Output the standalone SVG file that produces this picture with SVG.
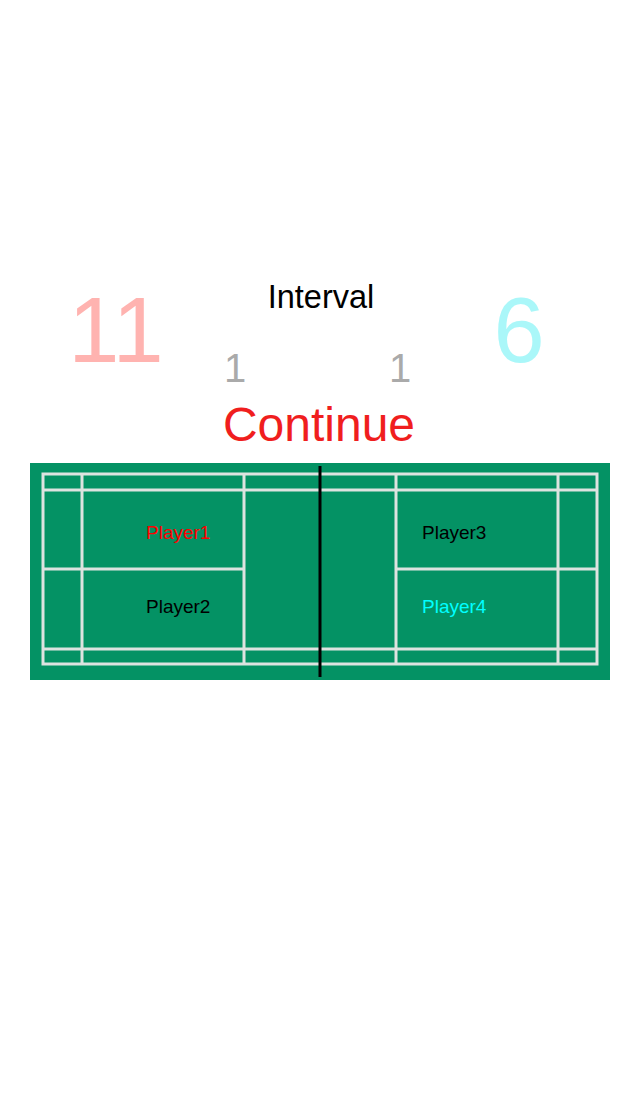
<svg xmlns="http://www.w3.org/2000/svg" width="640" height="1096" viewBox="0 0 640 1096">
<style>
text{font-family:"Liberation Sans",Arial,sans-serif;text-anchor:middle}
.l{stroke:#dde3e0;stroke-width:3;fill:none}
.p{font-size:19px;text-anchor:start}
</style>
<rect width="640" height="1096" fill="#fff"/>
<g id="scores">
<text x="116" y="362" font-size="92" fill="#ffb3b0">11</text>
<text x="519" y="362" font-size="92" fill="#aaf7f9">6</text>
<text x="321" y="308" font-size="32.5" fill="#000">Interval</text>
<text x="235" y="382" font-size="40" fill="#aaa">1</text>
<text x="400" y="382" font-size="40" fill="#aaa">1</text>
<text x="319" y="441" font-size="48" fill="#f01e1e">Continue</text>
</g>
<g id="court">
<rect x="30" y="463" width="580" height="217" fill="#049264"/>
<rect class="l" x="43" y="474" width="554" height="190"/>
<path class="l" d="M43 490H597M43 649H597M43 569H244M396 569H597M82 474V664M244 474V664M396 474V664M558 474V664"/>
<line x1="320" y1="466" x2="320" y2="677" stroke="#000" stroke-width="3"/>
<text class="p" x="146" y="539" fill="#f00">Player1</text>
<text class="p" x="146" y="613" fill="#000">Player2</text>
<text class="p" x="422" y="539" fill="#000">Player3</text>
<text class="p" x="422" y="613" fill="#0ff">Player4</text>
</g>
</svg>
